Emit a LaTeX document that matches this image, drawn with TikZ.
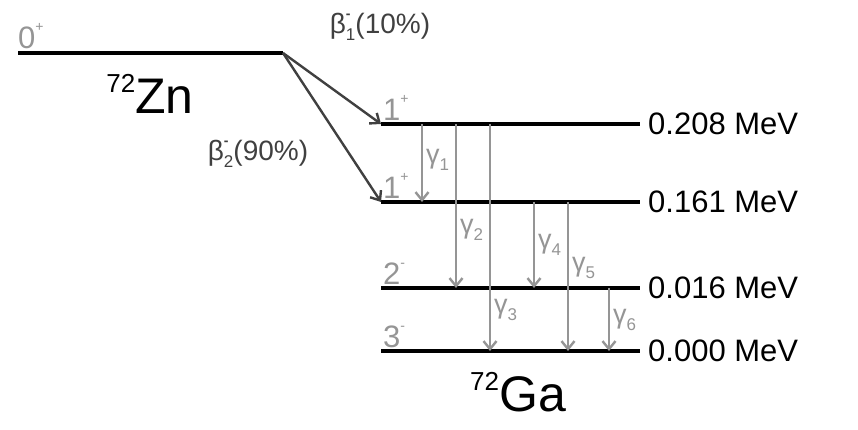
\documentclass[tikz,border=0pt]{standalone}
\usepackage{fontspec}
\setmainfont{Liberation Sans}
\usetikzlibrary{arrows.meta}
\definecolor{lg}{HTML}{959595}
\definecolor{dg}{HTML}{404040}
\newcommand{\sups}[1]{\raisebox{0.55em}{\fontsize{14}{14}\selectfont #1}}
\newcommand{\subs}[1]{\raisebox{-0.25em}{\fontsize{17}{17}\selectfont #1}}
\newcommand{\sbeta}[1]{β\makebox[0pt][l]{\sups{\textbf{-}}}\subs{#1}}
\begin{document}
\begin{tikzpicture}[x=1pt,y=-1pt,
  lvl/.style={line width=4pt},
  beta/.style={dg,line width=2.4pt,-{Straight Barb[length=8pt,width=13pt,line width=2.4pt]}},
  gam/.style={lg,line width=2.4pt,-{Straight Barb[length=8pt,width=13pt,line width=2.4pt]}},
  spin/.style={lg,font=\fontsize{31}{31}\selectfont,anchor=south west,inner sep=0pt},
  glab/.style={lg,font=\fontsize{27}{27}\selectfont,anchor=west,inner sep=1pt},
  en/.style={font=\fontsize{31}{31}\selectfont,anchor=west,inner sep=0pt}]
\useasboundingbox (0,0) rectangle (858,430);
\coordinate (zl) at (18,53); \coordinate (zr) at (283,53);
\draw[lvl] (zl) -- (zr);
\foreach \n/\y in {a/124,b/202,c/288,d/351}{
  \coordinate (\n l) at (381,\y); \coordinate (\n r) at (640,\y);
  \draw[lvl] (\n l) -- (\n r);}
\node[en] (ea) at (648,124) {0.208 MeV};
\node[en] (eb) at (648,202) {0.161 MeV};
\node[en] (ec) at (648,288) {0.016 MeV};
\node[en] (ed) at (648,351) {0.000 MeV};
\node[spin] (s0) at (18,49) {0\sups{+}};
\node[spin] (s1) at (383,121) {1\sups{+}};
\node[spin] (s2) at (383,199) {1\sups{+}};
\node[spin] (s3) at (383,285) {2\sups{-}};
\node[spin] (s4) at (383,348) {3\sups{-}};
\node[font=\fontsize{50}{50}\selectfont,inner sep=0pt] (zn) at (150,94) {\raisebox{0.42em}{\fontsize{26}{26}\selectfont 72}Zn};
\node[font=\fontsize{50}{50}\selectfont,inner sep=0pt] (ga) at (518,392) {\raisebox{0.42em}{\fontsize{26}{26}\selectfont 72}Ga};
\draw[beta] (zr) -- (al);
\draw[beta] (zr) -- (bl);
\node[dg,font=\fontsize{28}{28}\selectfont,inner sep=0pt] (b1) at (380,27) {\sbeta{1}(10\%)};
\node[dg,font=\fontsize{28}{28}\selectfont,inner sep=0pt] (b2) at (258,154) {\sbeta{2}(90\%)};
\draw[gam] (422,124) coordinate (g1s) -- (422,202) coordinate (g1e);
\draw[gam] (456,124) coordinate (g2s) -- (456,288) coordinate (g2e);
\draw[gam] (490,124) coordinate (g3s) -- (490,351) coordinate (g3e);
\draw[gam] (534,202) coordinate (g4s) -- (534,288) coordinate (g4e);
\draw[gam] (568,202) coordinate (g5s) -- (568,351) coordinate (g5e);
\draw[gam] (609,288) coordinate (g6s) -- (609,351) coordinate (g6e);
\node[glab] (l1) at (425,160) {γ\subs{1}};
\node[glab] (l2) at (459,230) {γ\subs{2}};
\node[glab] (l3) at (493,310) {γ\subs{3}};
\node[glab] (l4) at (537,245) {γ\subs{4}};
\node[glab] (l5) at (571,268) {γ\subs{5}};
\node[glab] (l6) at (612,320) {γ\subs{6}};
\end{tikzpicture}
\end{document}
